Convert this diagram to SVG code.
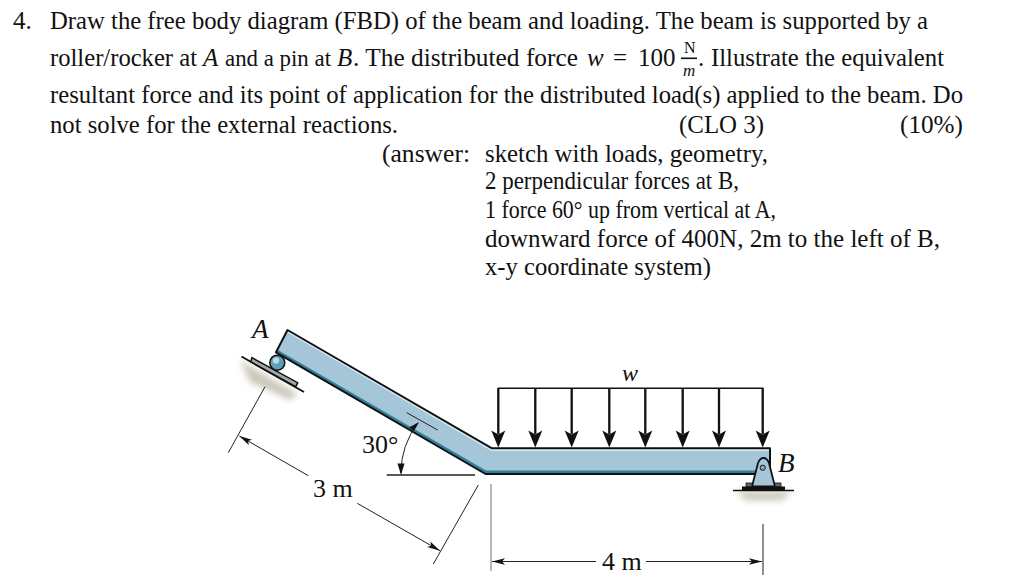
<svg xmlns="http://www.w3.org/2000/svg" width="1024" height="585" viewBox="0 0 1024 585">
<style>
text{font-family:"Liberation Serif","Times New Roman",serif;fill:#111}
.t{font-size:25px}
.l{font-size:26px}
.i{font-style:italic}
.dim{stroke:#222;stroke-width:1;fill:none}
.lead{stroke:#222;stroke-width:1.600;fill:none}
.ol{stroke:#111;stroke-width:2;fill:none;stroke-linejoin:round}
.ar{stroke:#111;stroke-width:2.300;fill:none}
</style>
<defs>
<marker id="dimA" markerWidth="14" markerHeight="8" refX="13" refY="4" orient="auto" markerUnits="userSpaceOnUse"><path d="M0 0.800L13 4L0 7.200L3 4Z" fill="#111"/></marker>
<path id="loadHead" d="M-7 -17L0 -13L7 -17L0 0Z" fill="#111"/>
<filter id="blur" x="-30%" y="-60%" width="160%" height="220%"><feGaussianBlur stdDeviation="3"/></filter>
</defs>
<g id="problem-text">
<text class="t" x="13" y="28.500">4.</text>
<text class="t" x="50" y="28.500" textLength="878" lengthAdjust="spacingAndGlyphs">Draw the free body diagram (FBD) of the beam and loading. The beam is supported by a</text>
<text class="t" x="50" y="65.500" textLength="147" lengthAdjust="spacingAndGlyphs">roller/rocker at</text>
<text class="t i" x="203" y="65.500">A</text>
<text x="225" y="65.500" font-size="24" textLength="106" lengthAdjust="spacingAndGlyphs">and a pin at</text>
<text class="t i" x="337" y="65.500">B</text>
<text class="t" x="353" y="65.500" textLength="225" lengthAdjust="spacingAndGlyphs">. The distributed force</text>
<text class="t i" x="587" y="65.500">w</text>
<text class="t" x="613" y="65.500">=</text>
<text class="t" x="638" y="65.500">100</text>
<text x="684" y="53" font-size="16">N</text>
<rect x="681" y="57.500" width="16" height="1.600" fill="#111"/>
<text class="i" x="683" y="76" font-size="17">m</text>
<text class="t" x="698" y="65.500">.</text>
<text class="t" x="711" y="65.500" textLength="233" lengthAdjust="spacingAndGlyphs">Illustrate the equivalent</text>
<text class="t" x="50" y="102.500" textLength="913" lengthAdjust="spacingAndGlyphs">resultant force and its point of application for the distributed load(s) applied to the beam. Do</text>
<text class="t" x="50" y="132.500" textLength="348" lengthAdjust="spacingAndGlyphs">not solve for the external reactions.</text>
<text class="t" x="679" y="132.500" textLength="85" lengthAdjust="spacingAndGlyphs">(CLO 3)</text>
<text class="t" x="900" y="132.500" textLength="63" lengthAdjust="spacingAndGlyphs">(10%)</text>
<text class="t" x="382" y="162" textLength="88" lengthAdjust="spacingAndGlyphs">(answer:</text>
<text class="t" x="485" y="162" textLength="283" lengthAdjust="spacingAndGlyphs">sketch with loads, geometry,</text>
<text class="t" x="485" y="189" textLength="254" lengthAdjust="spacingAndGlyphs">2 perpendicular forces at B,</text>
<text class="t" x="485" y="218" textLength="291" lengthAdjust="spacingAndGlyphs">1 force 60° up from vertical at A,</text>
<text class="t" x="485" y="247" textLength="455" lengthAdjust="spacingAndGlyphs">downward force of 400N, 2m to the left of B,</text>
<text class="t" x="485" y="275" textLength="226" lengthAdjust="spacingAndGlyphs">x-y coordinate system)</text>
</g>
<g id="support-A">
<path d="M240 360L298 394L290 400L250 382Z" fill="#a9a48c" opacity=".6" filter="url(#blur)"/>
<path d="M241.500 356.500L304 392" stroke="#111" stroke-width="1.800"/>
<path d="M252 357.700L297.700 382.700L295.700 386.700L250.700 361.700Z" fill="#a5a8aa" stroke="#111" stroke-width="1.500"/>
<circle cx="277.300" cy="362.700" r="7.500" fill="#5d9fb8" stroke="#111" stroke-width="1.500"/>
<circle cx="276" cy="360.500" r="3.200" fill="#b8dbe6"/>
</g>
<g id="beam">
<path d="M287.500 330L492 448.300H770V474H485.500L276 352.300Z" fill="#a4c6d8"/>
<path d="M277 349.500L486 470.500H770V474H485.500L276 352.300Z" fill="#2f7f99"/>
<path d="M288.500 332L492 450H770" stroke="#d8ecf3" stroke-width="2" fill="none"/>
<path class="ol" d="M287.500 330L276 352.300L485.500 474H770V448.300H492Z"/>
</g>
<g id="support-B">
<path d="M736 491H792L782 501H746Z" fill="#a9a48c" opacity=".55" filter="url(#blur)"/>
<path d="M752 486.500L758 463Q760 458 763.500 458Q767 458 769 463L775 486.500Z" fill="#a4c6d8" stroke="#111" stroke-width="1.800"/>
<circle cx="762.700" cy="467.700" r="2.600" fill="#99a8ad" stroke="#111" stroke-width="1"/>
<rect x="742" y="486.500" width="43" height="3.500" fill="#111"/>
<rect x="746" y="483" width="6" height="3.500" fill="#666" stroke="#111" stroke-width=".8"/>
<rect x="775" y="483" width="6" height="3.500" fill="#666" stroke="#111" stroke-width=".8"/>
<path d="M733 490.500H794" stroke="#111" stroke-width="1.600"/>
</g>
<g id="connectors">
<path d="M498 388.300H763.500" stroke="#111" stroke-width="1.600"/>
<path class="ar" d="M498.300 388V434M535.300 388V434M571.700 388V434M609.300 388V434M645.300 388V434M682.700 388V434M719 388V434M762.700 388V434"/>
<use href="#loadHead" x="498.300" y="447.500"/><use href="#loadHead" x="535.300" y="447.500"/><use href="#loadHead" x="571.700" y="447.500"/><use href="#loadHead" x="609.300" y="447.500"/><use href="#loadHead" x="645.300" y="447.500"/><use href="#loadHead" x="682.700" y="447.500"/><use href="#loadHead" x="719" y="447.500"/><use href="#loadHead" x="762.700" y="447.500"/>
<path class="dim" d="M265 386.700L228.300 452.700"/>
<path class="dim" d="M478.300 485L433.300 564"/>
<path class="dim" d="M308.300 475.700L239.300 436" marker-end="url(#dimA)"/>
<path class="dim" d="M357.300 503.300L440 550.700" marker-end="url(#dimA)"/>
<path class="lead" d="M386.700 475H475"/>
<path class="dim" d="M406.700 412.700L437.700 430"/>
<path class="dim" d="M418 423Q401 445 401 473"/>
<path d="M419 422L409 427.500L414 431Z" fill="#111"/>
<path d="M401 475L397.500 463.500H404.500Z" fill="#111"/>
<path d="M491 484V571" stroke="#888" stroke-width="1.200"/>
<path d="M763 524V575" stroke="#444" stroke-width="1.200"/>
<path class="dim" d="M596 561.500H492" marker-end="url(#dimA)"/>
<path class="dim" d="M646 561.500H762" marker-end="url(#dimA)"/>
</g>
<g id="labels">
<text class="i" font-size="27" x="252" y="338">A</text>
<text class="i" font-size="27" x="778" y="472">B</text>
<text class="i" font-size="24" x="622" y="381">w</text>
<text class="l" x="362" y="453">30°</text>
<text class="l" x="313" y="497">3 m</text>
<text class="l" x="602" y="570">4 m</text>
</g>
</svg>
